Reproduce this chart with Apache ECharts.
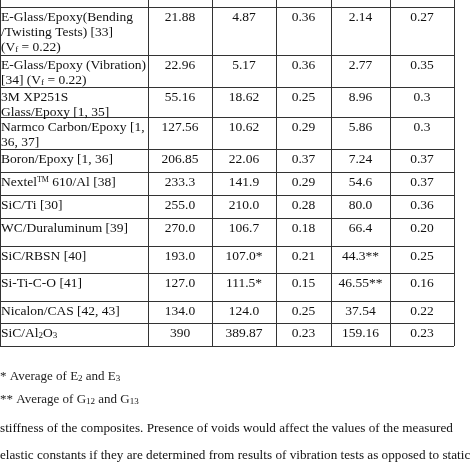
<!DOCTYPE html>
<html><head><meta charset="utf-8">
<script src="https://cdn.jsdelivr.net/npm/echarts@6/dist/echarts.min.js"></script>
<style>html,body{margin:0;padding:0;background:#fff}#c{width:474px;height:474px}</style>
</head><body><div id="c"></div>
<script>
// Table content (rich-text markup: {s|..} = subscript, {p|..} = superscript)
const materials = [
  "E-Glass/Epoxy(Bending\n/Twisting Tests) [33]\n(V{s|f} = 0.22)",
  "E-Glass/Epoxy (Vibration)\n[34] (V{s|f} = 0.22)",
  "3M XP251S\nGlass/Epoxy [1, 35]",
  "Narmco Carbon/Epoxy [1,\n36, 37]",
  "Boron/Epoxy [1, 36]",
  "Nextel{p|TM} 610/Al [38]",
  "SiC/Ti [30]",
  "WC/Duraluminum [39]",
  "SiC/RBSN [40]",
  "Si-Ti-C-O [41]",
  "Nicalon/CAS [42, 43]",
  "SiC/Al{s|2}O{s|3}"
];
const colE1  = ["21.88","22.96","55.16","127.56","206.85","233.3","255.0","270.0","193.0","127.0","134.0","390"];
const colE2  = ["4.87","5.17","18.62","10.62","22.06","141.9","210.0","106.7","107.0*","111.5*","124.0","389.87"];
const colNu12= ["0.36","0.36","0.25","0.29","0.37","0.29","0.28","0.18","0.21","0.15","0.25","0.23"];
const colG12 = ["2.14","2.77","8.96","5.86","7.24","54.6","80.0","66.4","44.3**","46.55**","37.54","159.16"];
const colNu23= ["0.27","0.35","0.3","0.3","0.37","0.37","0.36","0.20","0.25","0.16","0.22","0.23"];
const footnotes = ["* Average of E{s|2} and E{s|3}", "** Average of G{s|12} and G{s|13}"];
const paragraph = [
  "stiffness of the composites. Presence of voids would affect the values of the measured",
  "elastic constants if they are determined from results of vibration tests as opposed to static"
];

// layout
const colX = [0,148,212,276,331,390,454];
const rowY = [7,55,87,117,149,172,195,218,246,273,301,323,346];
const FONT = "Liberation Serif";
const rich = {
  s:{fontSize:9, fontFamily:FONT, padding:[5,0,0,0], fill:'#111'},
  p:{fontSize:8, fontFamily:FONT, padding:[0,0,6,0], fill:'#111'}
};
const g = [];
const lineStyle = {stroke:'#333', lineWidth:1};
colX.forEach(x => g.push({type:'line', shape:{x1:x+0.5,y1:0,x2:x+0.5,y2:rowY[rowY.length-1]}, style:lineStyle}));
rowY.forEach(y => g.push({type:'line', shape:{x1:0,y1:y+0.5,x2:454,y2:y+0.5}, style:lineStyle}));
const cols = [colE1, colE2, colNu12, colG12, colNu23];
materials.forEach((m,i) => {
  const top = rowY[i] + 3;
  g.push({type:'text', x:1, y:top, style:{text:m, font:`13.5px "${FONT}"`, lineHeight:15, fill:'#111', rich}});
  cols.forEach((c,j) => {
    g.push({type:'text', x:(colX[j+1]+colX[j+2])/2, y:top, style:{text:c[i], font:`13.5px "${FONT}"`, lineHeight:15, fill:'#111', align:'center'}});
  });
});
footnotes.forEach((f,i) => g.push({type:'text', x:0, y:369+i*23, style:{text:f, font:`13px "${FONT}"`, lineHeight:15, fill:'#222', rich}}));
paragraph.forEach((p,i) => g.push({type:'text', x:0, y:422+i*27, style:{text:p, font:`13.2px "${FONT}"`, fill:'#111'}}));

const chart = echarts.init(document.getElementById('c'));
chart.setOption({animation:false, backgroundColor:'#fff', graphic:g});
</script></body></html>
